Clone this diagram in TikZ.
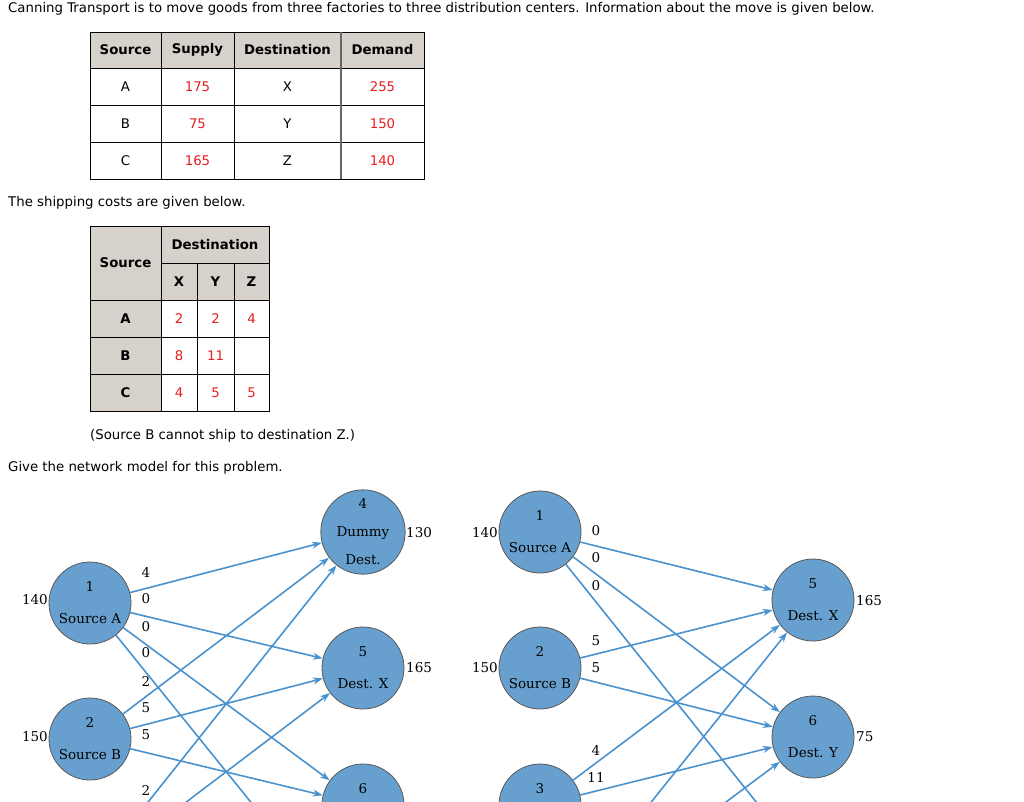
\documentclass[tikz,border=0pt]{standalone}
\usepackage{fontspec}
\setmainfont{DejaVu Sans}
\newfontfamily\nodefont{DejaVu Serif}
\usetikzlibrary{arrows.meta}
\definecolor{hdr}{RGB}{214,210,203}
\definecolor{red1}{RGB}{230,30,30}
\definecolor{nfill}{RGB}{103,160,206}
\definecolor{edge}{RGB}{74,146,206}
\begin{document}
\begin{tikzpicture}[x=1pt,y=-1pt,
  txt/.style={font=\fontsize{13.3}{15}\selectfont,inner sep=0pt},
  th/.style={font=\fontsize{13.3}{15}\selectfont\bfseries,inner sep=0pt},
  rv/.style={txt,text=red1},
  nd/.style={circle,draw=gray!70!black,line width=0.8pt,fill=nfill,minimum size=82pt,inner sep=0pt,align=center,font=\nodefont\fontsize{13.5}{38}\selectfont},
  lb/.style={font=\nodefont\fontsize{13.5}{15}\selectfont,inner sep=0pt},
  ed/.style={draw=edge,line width=1.6pt,-{Stealth[length=10pt,width=7pt]}}]
\useasboundingbox (0,0) rectangle (1024,801);
\clip (0,0) rectangle (1024,801);
\node[txt,anchor=west] (t1) at (8,9) {Canning Transport is to move goods from three factories to three distribution centers. Information about the move is given below.};
% table 1
\fill[hdr] (90,32) rectangle (424,68);
\draw[line width=1pt] (90,32) rectangle (424,179);
\foreach \y in {68,105,142} \draw[line width=1pt] (90,\y) -- (424,\y);
\foreach \x in {161,234} \draw[line width=1pt] (\x,32) -- (\x,179);
\draw[line width=2pt,gray!80!black] (341,32) -- (341,179);
\node[th] (h1) at (125.5,50) {Source};
\node[th] (h2) at (197.5,50) {Supply};
\node[th] (h3) at (287.5,50) {Destination};
\node[th] (h4) at (382.5,50) {Demand};
\foreach \n/\y/\s/\p/\d/\q in {a/87/A/175/X/255,b/124/B/75/Y/150,c/161/C/165/Z/140}{
  \node[txt] (s\n) at (125.5,\y) {\s};
  \node[rv] (p\n) at (197.5,\y) {\p};
  \node[txt] (d\n) at (287.5,\y) {\d};
  \node[rv] (q\n) at (382.5,\y) {\q};
}
\node[txt,anchor=west] (t2) at (8,203) {The shipping costs are given below.};
% table 2
\fill[hdr] (90,226) rectangle (269,300);
\fill[hdr] (90,300) rectangle (161,411);
\draw[line width=1pt] (90,226) rectangle (269,411);
\draw[line width=1pt] (161,263) -- (269,263);
\foreach \y in {300,337,374} \draw[line width=1pt] (90,\y) -- (269,\y);
\draw[line width=1pt] (161,226) -- (161,411);
\foreach \x in {197,234} \draw[line width=1pt] (\x,263) -- (\x,411);
\node[th] (g1) at (125.5,263) {Source};
\node[th] (g2) at (215,245) {Destination};
\node[th] (gx) at (179,282) {X};
\node[th] (gy) at (215.5,282) {Y};
\node[th] (gz) at (251.5,282) {Z};
\foreach \n/\y/\s/\a/\b/\c in {a/319/A/2/2/4,b/356/B/8/11/,c/393/C/4/5/5}{
  \node[th] (r\n) at (125.5,\y) {\s};
  \node[rv] (rx\n) at (179,\y) {\a};
  \node[rv] (ry\n) at (215.5,\y) {\b};
  \node[rv] (rz\n) at (251.5,\y) {\c};
}
\node[txt,anchor=west] (t3) at (90,436) {(Source B cannot ship to destination Z.)};
\node[txt,anchor=west] (t4) at (8,468) {Give the network model for this problem.};
% left network
\node[nd] (LA) at (90,603) {1\\[-6pt]Source A};
\node[nd] (LB) at (90,739) {2\\[-6pt]Source B};
\node[nd] (LC) at (90,875) {};
\node[nd] (L4) at (363,532) {4\\[-10pt]Dummy\\[-10pt]Dest.};
\node[nd] (L5) at (363,668) {5\\[-6pt]Dest. X};
\node[nd] (L6) at (363,805) {6\\[-6pt]Dest. Y};
\node[nd] (L7) at (363,941) {};
\foreach \a/\b in {LA/L4,LA/L5,LA/L6,LA/L7,LB/L4,LB/L5,LB/L6,LC/L4,LC/L5,LC/L6,LC/L7}
  \path[ed] (\a) -- (\b);
\node[lb] (la1) at (146,572) {4};
\node[lb] (la2) at (146,599) {0};
\node[lb] (la3) at (146,627) {0};
\node[lb] (la4) at (146,653) {0};
\node[lb] (lb1) at (146,681) {2};
\node[lb] (lb2) at (146,708) {5};
\node[lb] (lb3) at (146,735) {5};
\node[lb] (lc1) at (146,790) {2};
\node[lb,anchor=east] (ls1) at (48,600) {140};
\node[lb,anchor=east] (ls2) at (48,737) {150};
\node[lb,anchor=west] (ld4) at (406,533) {130};
\node[lb,anchor=west] (ld5) at (406,668) {165};
% right network
\node[nd] (RA) at (540,532) {1\\[-6pt]Source A};
\node[nd] (RB) at (540,668) {2\\[-6pt]Source B};
\node[nd] (RC) at (540,805) {3\\[-6pt]Source C};
\node[nd] (RD) at (540,941) {};
\node[nd] (RX) at (813,600) {5\\[-6pt]Dest. X};
\node[nd] (RY) at (813,737) {6\\[-6pt]Dest. Y};
\node[nd] (RZ) at (813,873) {};
\foreach \a/\b in {RA/RX,RA/RY,RA/RZ,RB/RX,RB/RY,RC/RX,RC/RY,RC/RZ,RD/RX,RD/RY}
  \path[ed] (\a) -- (\b);
\node[lb] (ra1) at (596,531) {0};
\node[lb] (ra2) at (596,558) {0};
\node[lb] (ra3) at (596,586) {0};
\node[lb] (rb1) at (596,641) {5};
\node[lb] (rb2) at (596,668) {5};
\node[lb] (rc1) at (596,750) {4};
\node[lb] (rc2) at (596,777) {11};
\node[lb,anchor=east] (rs1) at (498,533) {140};
\node[lb,anchor=east] (rs2) at (498,668) {150};
\node[lb,anchor=west] (rdx) at (856,601) {165};
\node[lb,anchor=west] (rdy) at (856,737) {75};
\end{tikzpicture}
\end{document}
